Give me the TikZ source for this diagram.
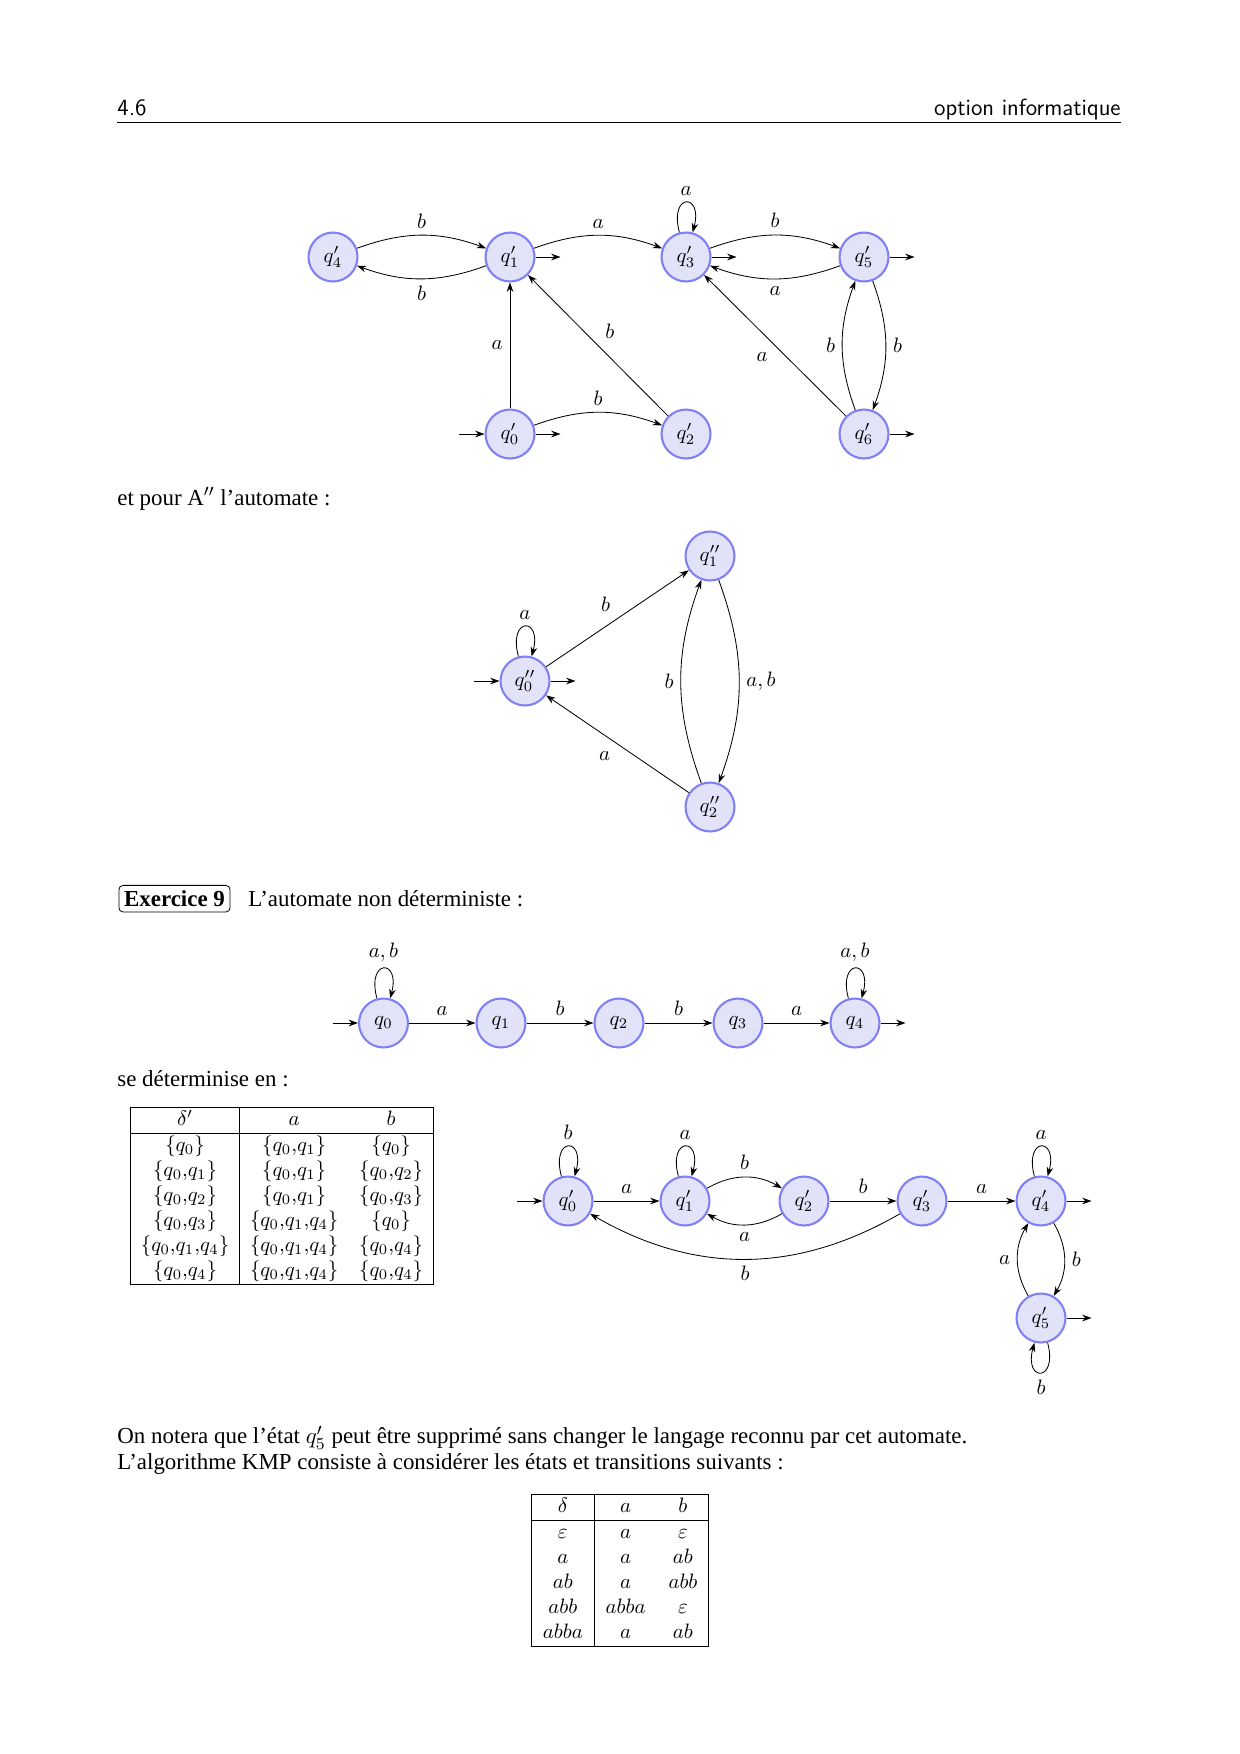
\documentclass[tikz,border=0pt]{standalone}
\usepackage{fontspec}
\setmainfont{Liberation Serif}
\usepackage{tikz}
\usetikzlibrary{arrows.meta,positioning}
\definecolor{etatbleu}{RGB}{128,128,245}
\definecolor{etatfond}{RGB}{226,226,248}
\tikzset{
  etat/.style={circle, draw=etatbleu, fill=etatfond, line width=1pt, minimum size=23.5pt, inner sep=0pt},
  arr/.style={-{Stealth[length=4.5pt,width=3.2pt]}, line width=0.4pt},
  txt/.style={anchor=base west, inner sep=0pt, font=\fontsize{11}{13.2}\selectfont},
  every loop/.style={min distance=6.5mm},
}

\begin{document}
\begin{tikzpicture}[x=0.48pt,y=0.48pt]
  \useasboundingbox (0,0) rectangle (1240,-1754);
  % page header
  \node[txt,font=\sffamily\fontsize{11.2}{13}\selectfont] (num) at (117,-115) {4.6};
  \node[anchor=base east,inner sep=0pt,font=\sffamily\fontsize{11.2}{13}\selectfont] (titre) at (1121,-115) {option informatique};
  \coordinate (regleg) at (117,-122);
  \coordinate (regled) at (1121,-122);
  \draw[line width=0.4pt] (regleg) -- (regled);

  % automate A'
  \node[etat] (p4) at (333,-257) {$q'_4$};
  \node[etat] (p1) at (510,-257) {$q'_1$};
  \node[etat] (p3) at (686,-257) {$q'_3$};
  \node[etat] (p5) at (864,-257) {$q'_5$};
  \node[etat] (p0) at (510,-434) {$q'_0$};
  \node[etat] (p2) at (686,-434) {$q'_2$};
  \node[etat] (p6) at (864,-434) {$q'_6$};
  \coordinate[left=12pt of p0] (p0-i);
  \draw[arr] (p0-i) -- (p0);
  \foreach \n in {p1,p3,p5,p0,p6}{
    \coordinate[right=12pt of \n] (\n-f);
    \draw[arr] (\n) -- (\n-f);
  }
  \path[arr] (p4) edge[bend left=20] node[auto]{$b$} (p1)
             (p1) edge[bend left=20] node[auto]{$b$} (p4)
             (p1) edge[bend left=20] node[auto]{$a$} (p3)
             (p3) edge[loop above] node[above]{$a$} ()
             (p3) edge[bend left=20] node[auto]{$b$} (p5)
             (p5) edge[bend left=20] node[auto]{$a$} (p3)
             (p0) edge node[auto]{$a$} (p1)
             (p0) edge[bend left=20] node[auto]{$b$} (p2)
             (p2) edge node[auto,swap]{$b$} (p1)
             (p6) edge node[auto]{$a$} (p3)
             (p6) edge[bend left=20] node[auto]{$b$} (p5)
             (p5) edge[bend left=20] node[auto]{$b$} (p6);

  \node[txt] (etpour) at (117,-505) {et pour $\mathrm{A}''$ l'automate~:};

  % automate A''
  \node[etat] (s0) at (525,-681) {$q''_0$};
  \node[etat] (s1) at (710,-556) {$q''_1$};
  \node[etat] (s2) at (710,-807) {$q''_2$};
  \coordinate[left=12pt of s0] (s0-i);
  \coordinate[right=12pt of s0] (s0-f);
  \draw[arr] (s0-i) -- (s0);
  \draw[arr] (s0) -- (s0-f);
  \path[arr] (s0) edge[loop above] node[above]{$a$} ()
             (s0) edge node[auto]{$b$} (s1)
             (s2) edge node[auto]{$a$} (s0)
             (s2) edge[bend left=20] node[auto]{$b$} (s1)
             (s1) edge[bend left=20] node[auto]{$a,b$} (s2);

  % exercice 9
  \node[draw,rounded corners=2pt,inner sep=2.5pt,anchor=base west,font=\fontsize{11}{13.2}\selectfont\bfseries] (exo) at (118.5,-906.5) {Exercice 9};
  \node[txt] (exotxt) at (248,-906.5) {L'automate non d\'eterministe~:};

  \foreach \i/\x in {0/383.5,1/501,2/619,3/738,4/855}{
    \node[etat] (r\i) at (\x,-1023) {$q_{\i}$};
  }
  \coordinate[left=12pt of r0] (r0-i);
  \coordinate[right=12pt of r4] (r4-f);
  \draw[arr] (r0-i) -- (r0);
  \draw[arr] (r4) -- (r4-f);
  \foreach \a/\b/\l in {0/1/a,1/2/b,2/3/b,3/4/a}{\draw[arr] (r\a) -- node[auto]{$\l$} (r\b);}
  \path[arr] (r0) edge[loop above] node[above]{$a,b$} ()
             (r4) edge[loop above] node[above]{$a,b$} ();

  \node[txt] (sedet) at (117,-1086) {se d\'eterminise en~:};

  % table de l'automate determinise
  \node[anchor=north west,inner sep=0pt] (tab1) at (130,-1107) {%
    \setlength{\tabcolsep}{5pt}%
    \begin{tabular}{|c|cc|}
      \hline
      $\delta'$ & $a$ & $b$\\
      \hline
      $\{q_0\}$ & $\{q_0{,}q_1\}$ & $\{q_0\}$\\
      $\{q_0{,}q_1\}$ & $\{q_0{,}q_1\}$ & $\{q_0{,}q_2\}$\\
      $\{q_0{,}q_2\}$ & $\{q_0{,}q_1\}$ & $\{q_0{,}q_3\}$\\
      $\{q_0{,}q_3\}$ & $\{q_0{,}q_1{,}q_4\}$ & $\{q_0\}$\\
      $\{q_0{,}q_1{,}q_4\}$ & $\{q_0{,}q_1{,}q_4\}$ & $\{q_0{,}q_4\}$\\
      $\{q_0{,}q_4\}$ & $\{q_0{,}q_1{,}q_4\}$ & $\{q_0{,}q_4\}$\\
      \hline
    \end{tabular}};

  % automate deterministe
  \foreach \i/\x in {0/568,1/685,2/804,3/922,4/1041}{
    \node[etat] (t\i) at (\x,-1201) {$q'_{\i}$};
  }
  \node[etat] (t5) at (1041,-1318) {$q'_5$};
  \coordinate[left=12pt of t0] (t0-i);
  \draw[arr] (t0-i) -- (t0);
  \foreach \n in {t4,t5}{
    \coordinate[right=12pt of \n] (\n-f);
    \draw[arr] (\n) -- (\n-f);
  }
  \foreach \a/\b/\l in {0/1/a,2/3/b,3/4/a}{\draw[arr] (t\a) -- node[auto]{$\l$} (t\b);}
  \path[arr] (t0) edge[loop above] node[above]{$b$} ()
             (t1) edge[loop above] node[above]{$a$} ()
             (t4) edge[loop above] node[above]{$a$} ()
             (t5) edge[loop below] node[below]{$b$} ()
             (t1) edge[bend left] node[auto]{$b$} (t2)
             (t2) edge[bend left] node[auto]{$a$} (t1)
             (t3) edge[bend left] node[auto]{$b$} (t0)
             (t4) edge[bend left] node[auto]{$b$} (t5)
             (t5) edge[bend left] node[auto]{$a$} (t4);

  \node[txt] (note1) at (117,-1443.5) {On notera que l'\'etat $q'_5$ peut \^etre supprim\'e sans changer le langage reconnu par cet automate.};
  \node[txt] (note2) at (117,-1469) {L'algorithme KMP consiste \`a consid\'erer les \'etats et transitions suivants~:};

  % table KMP
  \node[anchor=north west,inner sep=0pt] (tab2) at (531,-1494) {%
    \setlength{\tabcolsep}{5.5pt}%
    \begin{tabular}{|c|cc|}
      \hline
      $\delta$ & $a$ & $b$\\
      \hline
      $\varepsilon$ & $a$ & $\varepsilon$\\
      $a$ & $a$ & $ab$\\
      $ab$ & $a$ & $abb$\\
      $abb$ & $abba$ & $\varepsilon$\\
      $abba$ & $a$ & $ab$\\
      \hline
    \end{tabular}};
\end{tikzpicture}
\end{document}
